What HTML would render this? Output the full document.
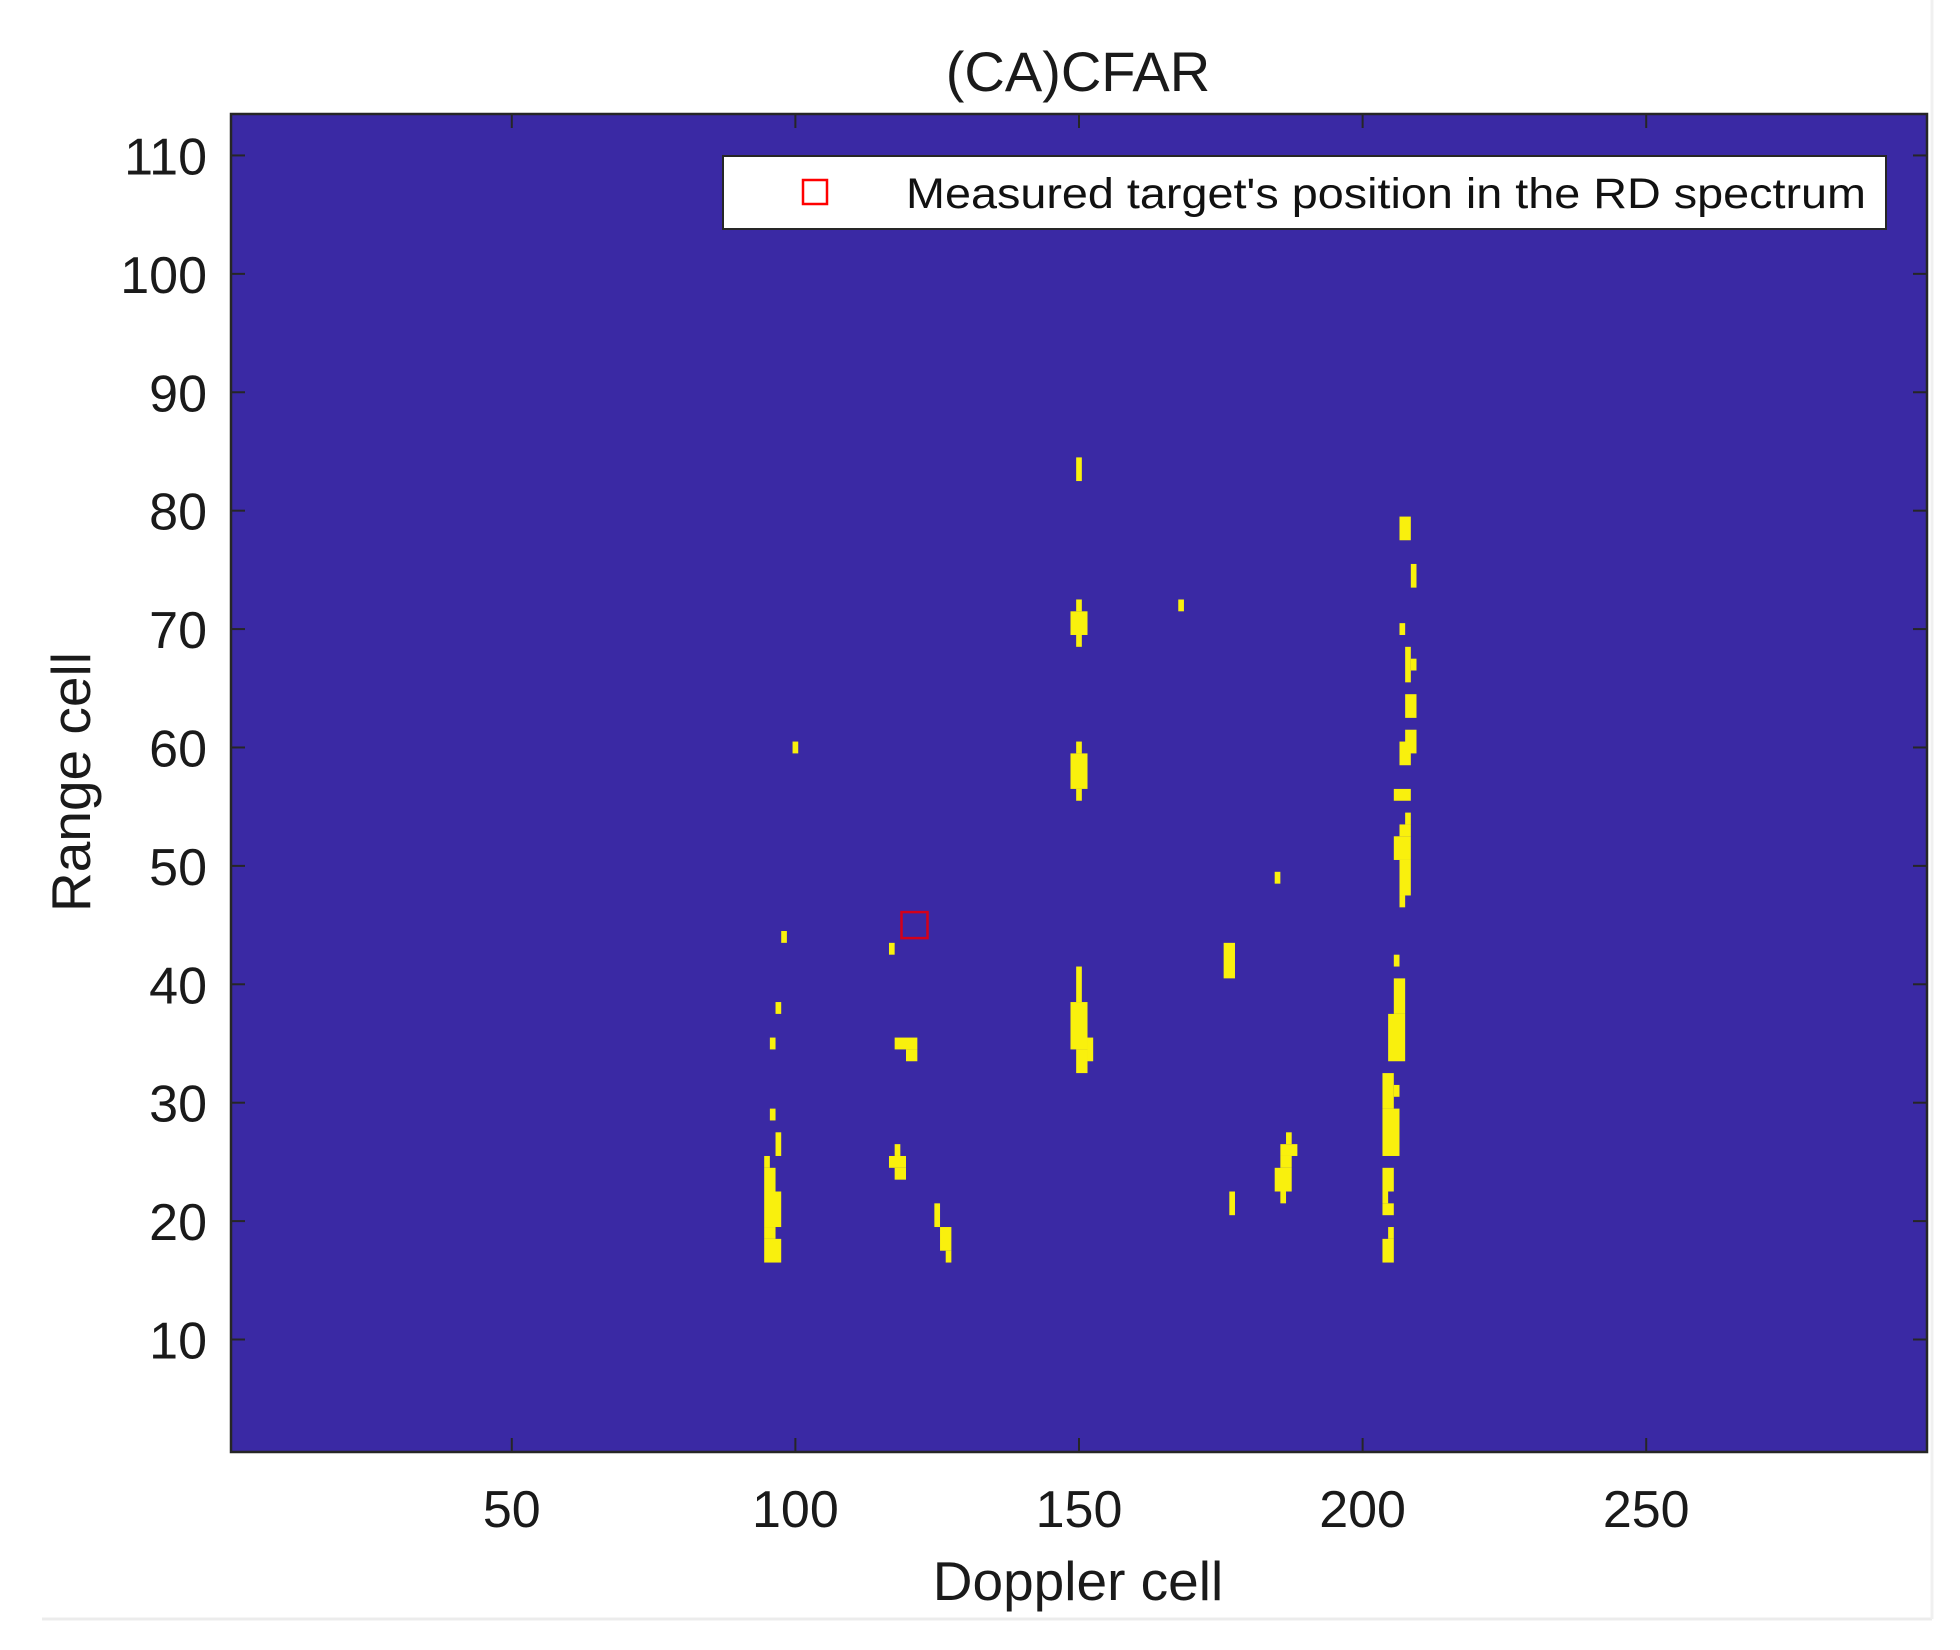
<!DOCTYPE html>
<html><head><meta charset="utf-8"><style>
html,body{margin:0;padding:0;background:#fff;}
svg{display:block;font-family:"Liberation Sans",Arial,sans-serif;}
</style></head><body>
<svg id="chart" width="1960" height="1650" viewBox="0 0 1960 1650" xmlns="http://www.w3.org/2000/svg">
<rect x="0" y="0" width="1960" height="1650" fill="#ffffff"/>
<line x1="42" y1="1619" x2="1932" y2="1619" stroke="#ececec" stroke-width="3"/>
<line x1="1932" y1="0" x2="1932" y2="1619" stroke="#f0f0f0" stroke-width="3"/>
<text x="1078" y="91" font-size="56" text-anchor="middle" fill="#1a1a1a">(CA)CFAR</text>
<rect x="231" y="114" width="1696" height="1338" fill="#3a29a4"/>
<g id="cells"></g>
<g id="axes"></g>
<rect x="231" y="114" width="1696" height="1338" fill="none" stroke="#262626" stroke-width="2.5"/>
<g>
<rect x="723" y="156" width="1163" height="73" fill="#ffffff" stroke="#262626" stroke-width="2"/>
<rect x="803" y="180" width="24" height="24" fill="none" stroke="#ff0000" stroke-width="2.5"/>
<text x="906" y="208" font-size="43" textLength="960" lengthAdjust="spacingAndGlyphs" fill="#111">Measured target's position in the RD spectrum</text>
</g>
<text x="1078" y="1600" font-size="55" text-anchor="middle" fill="#1a1a1a">Doppler cell</text>
<text transform="translate(90,782) rotate(-90)" font-size="55" text-anchor="middle" fill="#1a1a1a">Range cell</text>
</svg>
<script>
const dopplerStart=[150,207,209,150,149,150,168,207,208,209,208,208,207,100,150,149,150,206,208,207,206,207,207,185,98,117,176,206,150,149,152,150,206,205,97,96,118,120,204,206,204,96,97,118,117,118,187,186,186,185,186,177,204,204,204,205,204,95,95,95,95,95,125,126,127];
const dopplerEnd  =[150,208,209,150,151,150,168,207,208,209,209,209,208,100,150,151,150,208,208,208,208,208,207,185,98,117,177,206,150,151,152,151,207,207,97,96,121,121,205,206,206,96,97,118,119,119,187,188,187,187,186,177,205,204,205,205,205,95,96,97,96,97,125,127,127];
const rangeStart  =[83,78,74,72,70,69,72,70,66,67,63,60,59,60,60,57,56,56,54,53,51,48,47,49,44,43,41,42,39,35,34,33,38,34,38,35,35,34,30,31,26,29,26,26,25,24,27,26,25,23,22,21,23,22,21,19,17,25,23,20,19,17,20,18,17];
const rangeEnd    =[84,79,75,72,71,69,72,70,68,67,64,61,60,60,60,59,56,56,54,53,52,50,47,49,44,43,43,42,41,38,35,34,40,37,38,35,35,34,32,31,29,29,27,26,25,24,27,26,25,24,22,22,24,22,21,19,18,25,24,22,19,18,21,19,17];
const targetDoppler=[121];
const targetRange=[45];
const xTicks=[50,100,150,200,250];
const yTicks=[10,20,30,40,50,60,70,80,90,100,110];

const NS="http://www.w3.org/2000/svg";
const X0=231,X1=1927,Y0=1452,Y1=114,XMIN=0.5,XMAX=299.5,YMIN=0.5,YMAX=113.5;
function X(v){return X0+(v-XMIN)/(XMAX-XMIN)*(X1-X0);}
function Y(v){return Y0-(v-YMIN)/(YMAX-YMIN)*(Y0-Y1);}
function mk(tag,attrs){const e=document.createElementNS(NS,tag);for(const k in attrs)e.setAttribute(k,attrs[k]);return e;}

const cells=document.getElementById('cells');
for(let i=0;i<dopplerStart.length;i++){
  const x=X(dopplerStart[i]-0.5),x2=X(dopplerEnd[i]+0.5);
  const y=Y(rangeEnd[i]+0.5),y2=Y(rangeStart[i]-0.5);
  const r=mk('rect',{x:x,y:y,width:x2-x,height:y2-y,fill:'#f9f00d'});
  
  
  cells.appendChild(r);
}
for(let i=0;i<targetDoppler.length;i++){
  const cx=X(targetDoppler[i]),cy=Y(targetRange[i]);
  const m=mk('rect',{x:cx-13,y:cy-13,width:26,height:26,fill:'none',stroke:'#d4001a','stroke-width':2.5});
  
  
  cells.appendChild(m);
}
const axes=document.getElementById('axes');
xTicks.forEach(t=>{
  const x=X(t);
  const a=mk('line',{x1:x,y1:Y0,x2:x,y2:Y0-14,stroke:'#262626','stroke-width':2});
  
  
  axes.appendChild(a);
  const b=mk('line',{x1:x,y1:Y1,x2:x,y2:Y1+14,stroke:'#262626','stroke-width':2});
  
  
  axes.appendChild(b);
  const l=mk('text',{x:x,y:1527,'font-size':52,'text-anchor':'middle',fill:'#1a1a1a'});
  
  
  l.textContent=t;axes.appendChild(l);
});
yTicks.forEach(t=>{
  const y=Y(t);
  const a=mk('line',{x1:X0,y1:y,x2:X0+14,y2:y,stroke:'#262626','stroke-width':2});
  
  
  axes.appendChild(a);
  const b=mk('line',{x1:X1,y1:y,x2:X1-14,y2:y,stroke:'#262626','stroke-width':2});
  
  
  axes.appendChild(b);
  const l=mk('text',{x:207,y:y+19,'font-size':52,'text-anchor':'end',fill:'#1a1a1a'});
  
  
  l.textContent=t;axes.appendChild(l);
});
</script>
</body></html>
